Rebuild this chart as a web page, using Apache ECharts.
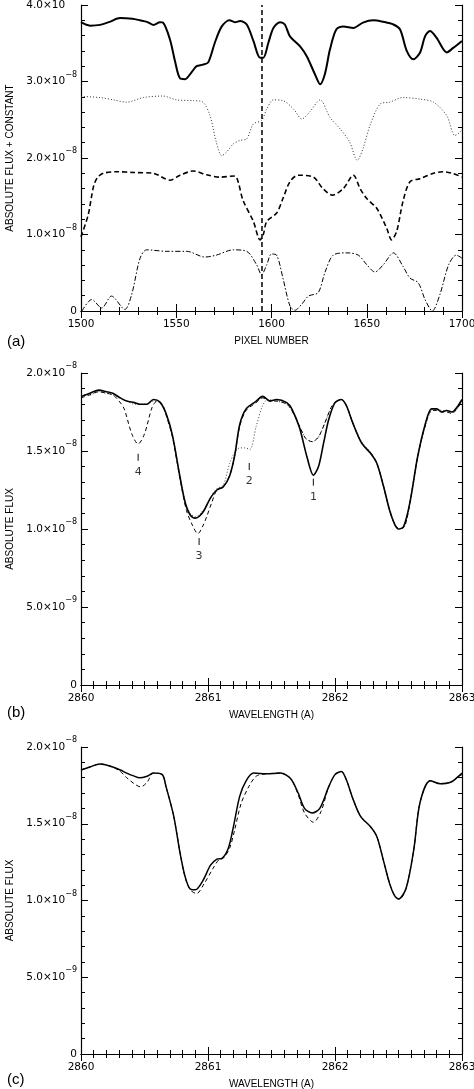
<!DOCTYPE html>
<html><head><meta charset="utf-8">
<script src="https://cdn.jsdelivr.net/npm/echarts@6/dist/echarts.min.js"></script>
<style>html,body{margin:0;padding:0;background:#fff}#c{width:474px;height:1089px}</style>
</head><body><div id="c"></div>
<script>
// ---- Panel (a): flux (units of 1e-8) vs pixel number ----
const A_SOLID = [[1500,3.775],[1504.7,3.73],[1510,3.74],[1515,3.78],[1520.5,3.83],[1527,3.82],[1531,3.80],[1534.6,3.78],[1538,3.74],[1541.5,3.775],[1543,3.77],[1546.7,3.55],[1549.3,3.27],[1552,3.04],[1554.6,3.03],[1558,3.12],[1560.7,3.20],[1564,3.22],[1566.8,3.25],[1570.3,3.51],[1573.9,3.72],[1578,3.80],[1580.8,3.775],[1583.5,3.79],[1587,3.745],[1590.5,3.53],[1594,3.31],[1595.7,3.31],[1598.4,3.51],[1601,3.70],[1604.5,3.775],[1607,3.745],[1609.7,3.59],[1615,3.46],[1618.5,3.33],[1622.8,3.095],[1625.5,2.965],[1628,3.095],[1630.7,3.42],[1634,3.68],[1637.7,3.72],[1643,3.70],[1648,3.77],[1653.4,3.80],[1658.7,3.78],[1664,3.745],[1667.5,3.68],[1671,3.40],[1674.4,3.29],[1678,3.38],[1680.6,3.59],[1683.2,3.66],[1686.7,3.57],[1692,3.38],[1695.4,3.44],[1700,3.53]];
const A_DOTTED = [[1500,2.805],[1510,2.79],[1517,2.76],[1524,2.73],[1532.7,2.79],[1543,2.81],[1550,2.76],[1559,2.75],[1564,2.73],[1567.7,2.555],[1571,2.21],[1573.9,2.03],[1576.5,2.08],[1580,2.185],[1583.5,2.23],[1587,2.25],[1590.5,2.445],[1594.8,2.49],[1597.5,2.64],[1601,2.76],[1606,2.75],[1611.6,2.64],[1615.9,2.51],[1620,2.60],[1625.5,2.76],[1630.7,2.53],[1636,2.38],[1641,2.21],[1645,1.97],[1648,2.12],[1651.7,2.425],[1657,2.705],[1662,2.73],[1669,2.79],[1678,2.77],[1685,2.73],[1692,2.555],[1696.3,2.295],[1700,2.36]];
const A_DASHED = [[1500,0.97],[1503.8,1.26],[1506.5,1.62],[1508.5,1.74],[1511.7,1.80],[1518.7,1.82],[1528,1.81],[1538,1.80],[1546.7,1.71],[1552,1.775],[1559,1.83],[1566,1.78],[1573,1.75],[1580.8,1.765],[1582.5,1.69],[1585,1.45],[1590.5,1.17],[1594,0.93],[1595.7,1.00],[1597.5,1.17],[1602.7,1.28],[1606,1.47],[1609.7,1.69],[1614,1.775],[1622,1.75],[1627,1.60],[1632,1.515],[1637.7,1.60],[1643,1.775],[1646.5,1.60],[1650,1.47],[1655.3,1.34],[1660.5,1.08],[1663,0.93],[1665.7,1.04],[1669,1.43],[1672.7,1.69],[1678,1.73],[1685,1.80],[1690,1.82],[1695,1.80],[1700,1.75]];
const A_DASHDOT = [[1500.5,0.0],[1505.6,0.15],[1510.9,0.04],[1516,0.195],[1523,0.02],[1526.6,0.215],[1531,0.69],[1534.5,0.80],[1545,0.78],[1555.5,0.78],[1565,0.705],[1571,0.73],[1580,0.80],[1587,0.78],[1592.2,0.605],[1594.8,0.475],[1597.5,0.605],[1600,0.745],[1602.7,0.73],[1606,0.43],[1609.7,0.065],[1612.3,0.01],[1615.9,0.09],[1619.4,0.195],[1624.5,0.24],[1628,0.50],[1632.4,0.73],[1639.5,0.76],[1645.6,0.73],[1650,0.605],[1654.3,0.51],[1658.7,0.605],[1664,0.76],[1669,0.585],[1672.7,0.43],[1677,0.37],[1680.6,0.15],[1684.4,0.0],[1688.4,0.215],[1693,0.605],[1697,0.73],[1700,0.69]];
const A_MARKER_PIXEL = 1595;

// ---- Panel (b): flux (units of 1e-8) vs wavelength (A) ----
const B_SOLID = [[2860.00,1.85],[2860.07,1.87],[2860.14,1.89],[2860.20,1.88],[2860.25,1.87],[2860.31,1.84],[2860.36,1.82],[2860.42,1.81],[2860.46,1.80],[2860.52,1.80],[2860.57,1.83],[2860.62,1.815],[2860.67,1.74],[2860.72,1.60],[2860.78,1.33],[2860.82,1.17],[2860.86,1.09],[2860.90,1.07],[2860.93,1.08],[2860.97,1.12],[2861.02,1.20],[2861.07,1.25],[2861.12,1.27],[2861.17,1.34],[2861.21,1.47],[2861.25,1.67],[2861.30,1.77],[2861.38,1.82],[2861.43,1.85],[2861.49,1.82],[2861.54,1.83],[2861.62,1.81],[2861.66,1.77],[2861.72,1.65],[2861.78,1.46],[2861.83,1.345],[2861.87,1.40],[2861.91,1.55],[2861.95,1.70],[2862.00,1.81],[2862.05,1.83],[2862.09,1.79],[2862.14,1.68],[2862.21,1.55],[2862.28,1.485],[2862.33,1.42],[2862.38,1.28],[2862.43,1.12],[2862.47,1.03],[2862.50,1.00],[2862.54,1.015],[2862.59,1.17],[2862.65,1.46],[2862.71,1.67],[2862.76,1.77],[2862.80,1.77],[2862.84,1.75],[2862.88,1.76],[2862.92,1.75],[2862.96,1.78],[2863.00,1.83]];
const B_DASHED = [[2860.00,1.84],[2860.07,1.86],[2860.14,1.88],[2860.20,1.87],[2860.25,1.86],[2860.30,1.82],[2860.34,1.77],[2860.40,1.61],[2860.45,1.545],[2860.50,1.61],[2860.56,1.78],[2860.60,1.82],[2860.64,1.80],[2860.67,1.73],[2860.72,1.59],[2860.78,1.32],[2860.83,1.12],[2860.88,1.02],[2860.92,0.97],[2860.96,1.02],[2860.99,1.08],[2861.03,1.17],[2861.07,1.25],[2861.12,1.27],[2861.17,1.34],[2861.21,1.47],[2861.25,1.66],[2861.30,1.76],[2861.38,1.81],[2861.43,1.84],[2861.49,1.82],[2861.54,1.82],[2861.62,1.80],[2861.66,1.76],[2861.72,1.66],[2861.77,1.58],[2861.82,1.56],[2861.87,1.59],[2861.92,1.68],[2861.97,1.78],[2862.00,1.81],[2862.05,1.83],[2862.09,1.79],[2862.14,1.68],[2862.21,1.55],[2862.28,1.49],[2862.33,1.42],[2862.38,1.28],[2862.43,1.12],[2862.47,1.03],[2862.51,1.00],[2862.55,1.02],[2862.59,1.17],[2862.65,1.46],[2862.71,1.66],[2862.76,1.76],[2862.80,1.76],[2862.84,1.75],[2862.88,1.75],[2862.92,1.74],[2862.96,1.77],[2863.00,1.82]];
const B_DOTTED = [[2860.00,1.86],[2860.07,1.86],[2860.14,1.88],[2860.20,1.87],[2860.25,1.86],[2860.31,1.84],[2860.36,1.82],[2860.42,1.80],[2860.46,1.80],[2860.52,1.80],[2860.57,1.82],[2860.62,1.81],[2860.67,1.74],[2860.72,1.60],[2860.78,1.34],[2860.82,1.18],[2860.86,1.10],[2860.90,1.08],[2860.93,1.09],[2860.97,1.13],[2861.02,1.20],[2861.07,1.26],[2861.12,1.28],[2861.17,1.42],[2861.21,1.49],[2861.25,1.52],[2861.29,1.52],[2861.33,1.51],[2861.38,1.66],[2861.43,1.79],[2861.47,1.83],[2861.54,1.82],[2861.62,1.80],[2861.66,1.76],[2861.72,1.66],[2861.77,1.58],[2861.82,1.56],[2861.87,1.59],[2861.92,1.68],[2861.97,1.78],[2862.00,1.81],[2862.05,1.83],[2862.09,1.79],[2862.14,1.68],[2862.21,1.56],[2862.28,1.49],[2862.33,1.42],[2862.38,1.28],[2862.43,1.12],[2862.47,1.03],[2862.51,1.00],[2862.55,1.02],[2862.59,1.17],[2862.65,1.46],[2862.71,1.66],[2862.76,1.76],[2862.80,1.77],[2862.84,1.76],[2862.88,1.76],[2862.92,1.75],[2862.96,1.77],[2863.00,1.82]];
const B_MARK_LABELS = ['1','2','3','4'];
const B_MARK_WL = [2861.83, 2861.325, 2860.93, 2860.45];
const B_MARK_FLUX = [1.30, 1.40, 0.92, 1.46];

// ---- Panel (c): flux (units of 1e-8) vs wavelength (A) ----
const C_SOLID = [[2860.00,1.85],[2860.07,1.87],[2860.15,1.89],[2860.25,1.87],[2860.31,1.85],[2860.36,1.83],[2860.42,1.81],[2860.46,1.80],[2860.52,1.81],[2860.57,1.83],[2860.64,1.82],[2860.67,1.74],[2860.73,1.55],[2860.78,1.31],[2860.82,1.155],[2860.86,1.075],[2860.90,1.07],[2860.96,1.13],[2861.02,1.23],[2861.07,1.27],[2861.11,1.275],[2861.16,1.34],[2861.20,1.48],[2861.25,1.68],[2861.30,1.78],[2861.36,1.83],[2861.46,1.825],[2861.57,1.83],[2861.65,1.795],[2861.71,1.70],[2861.76,1.60],[2861.82,1.57],[2861.88,1.60],[2861.95,1.74],[2862.00,1.82],[2862.05,1.84],[2862.09,1.785],[2862.14,1.665],[2862.20,1.55],[2862.28,1.48],[2862.33,1.415],[2862.38,1.265],[2862.43,1.11],[2862.47,1.03],[2862.50,1.01],[2862.56,1.08],[2862.62,1.33],[2862.67,1.64],[2862.75,1.78],[2862.83,1.76],[2862.91,1.77],[2862.96,1.80],[2863.00,1.83]];
const C_DASHED = [[2860.00,1.85],[2860.07,1.87],[2860.15,1.89],[2860.25,1.87],[2860.31,1.84],[2860.36,1.80],[2860.42,1.76],[2860.47,1.74],[2860.52,1.77],[2860.57,1.83],[2860.64,1.82],[2860.67,1.74],[2860.73,1.55],[2860.78,1.31],[2860.82,1.15],[2860.86,1.07],[2860.91,1.045],[2860.97,1.11],[2861.04,1.21],[2861.09,1.27],[2861.12,1.275],[2861.17,1.34],[2861.21,1.46],[2861.26,1.63],[2861.32,1.74],[2861.38,1.81],[2861.46,1.825],[2861.57,1.83],[2861.65,1.795],[2861.71,1.69],[2861.76,1.57],[2861.83,1.51],[2861.89,1.58],[2861.95,1.74],[2862.00,1.82],[2862.05,1.84],[2862.09,1.785],[2862.14,1.665],[2862.20,1.55],[2862.28,1.48],[2862.33,1.415],[2862.38,1.265],[2862.43,1.11],[2862.47,1.03],[2862.51,1.01],[2862.56,1.08],[2862.62,1.33],[2862.67,1.64],[2862.75,1.78],[2862.83,1.76],[2862.91,1.77],[2862.96,1.80],[2863.00,1.82]];

// ---- axis ticks ----
const A_X_TICKS = {min:1500, max:1700, interval:50};
const A_Y_TICKS = {min:0, max:4, interval:1};
const BC_X_TICKS = {min:2860, max:2863, interval:1};
const BC_Y_TICKS = {min:0, max:2, interval:0.5};

const chart = echarts.init(document.getElementById('c'), null, {renderer:'canvas'});
const FONT = 'DejaVu Sans';
const NAMEFONT = 'Liberation Sans';

function fluxLabel(v){
  if (Math.abs(v) < 1e-9) return '{m|0}';
  let m = v, e = 8;
  if (v < 0.999) { m = v*10; e = 9; }
  return '{m|' + m.toFixed(1) + '\u00d710}{e|\u2212' + e + '}';
}
const RICH = {
  m:{fontSize:10.5, fontFamily:FONT, color:'#000', lineHeight:22},
  e:{fontSize:8, fontFamily:FONT, color:'#000', verticalAlign:'top', lineHeight:10}
};
const AX_LINE = {show:true, lineStyle:{color:'#000', width:1.2}};
const grids = [
  {left:81, right:12, top:5, height:306},
  {left:81, right:12, top:373, height:312},
  {left:81, right:12, top:747, height:307}
];
function xAxes(gi, ticks, split, name){
  return [
    {type:'value', gridIndex:gi, position:'bottom', min:ticks.min, max:ticks.max, interval:ticks.interval,
     axisLine:AX_LINE, splitLine:{show:false},
     axisTick:{inside:true, length:7, lineStyle:{color:'#000', width:1}},
     minorTick:{show:true, splitNumber:split, length:4, lineStyle:{color:'#000', width:1}},
     axisLabel:{margin:8, fontSize:10.5, fontFamily:FONT, color:'#000', formatter:v=>String(Math.round(v))},
     name:name, nameLocation:'middle', nameGap:25,
     nameTextStyle:{fontSize:10, fontFamily:NAMEFONT, color:'#000', verticalAlign:'top'}},
    {type:'value', gridIndex:gi, position:'top', min:ticks.min, max:ticks.max, interval:ticks.interval,
     axisLine:AX_LINE, splitLine:{show:false},
     axisTick:{inside:true, length:7, lineStyle:{color:'#000', width:1}},
     minorTick:{show:true, splitNumber:split, length:4, lineStyle:{color:'#000', width:1}},
     axisLabel:{show:false}}
  ];
}
function yAxes(gi, ticks, split, name){
  return [
    {type:'value', gridIndex:gi, position:'left', min:ticks.min, max:ticks.max, interval:ticks.interval,
     axisLine:AX_LINE, splitLine:{show:false},
     axisTick:{inside:true, length:7, lineStyle:{color:'#000', width:1}},
     minorTick:{show:true, splitNumber:split, length:4, lineStyle:{color:'#000', width:1}},
     axisLabel:{margin:4, formatter:fluxLabel, rich:RICH},
     name:name, nameLocation:'middle', nameGap:62,
     nameTextStyle:{fontSize:10, fontFamily:NAMEFONT, color:'#000'}},
    {type:'value', gridIndex:gi, position:'right', min:ticks.min, max:ticks.max, interval:ticks.interval,
     axisLine:AX_LINE, splitLine:{show:false},
     axisTick:{inside:true, length:7, lineStyle:{color:'#000', width:1}},
     minorTick:{show:true, splitNumber:split, length:4, lineStyle:{color:'#000', width:1}},
     axisLabel:{show:false}}
  ];
}
function line(xi, yi, data, width, type, color, smooth){
  return {type:'line', xAxisIndex:xi, yAxisIndex:yi, data:data, showSymbol:false, symbol:'none',
    smooth:smooth===undefined?0.3:smooth, animation:false, silent:true,
    lineStyle:{color:color||'#000', width:width, type:type}};
}
const DASH = [5,3];
const DOT = [1,2];
const DASHDOT = [5,2,1.5,2];

const series = [
  line(0,0,A_SOLID,2,'solid'),
  line(0,0,A_DOTTED,1,DOT,'#333'),
  line(0,0,A_DASHED,1.6,DASH),
  line(0,0,A_DASHDOT,1,DASHDOT),
  line(0,0,[[A_MARKER_PIXEL,A_Y_TICKS.min],[A_MARKER_PIXEL,A_Y_TICKS.max]],1.5,[5,3],'#000',false),
  line(2,2,B_DOTTED,1,DOT,'#444'),
  line(2,2,B_DASHED,1,[4,3]),
  line(2,2,B_SOLID,1.6,'solid'),
  {type:'scatter', xAxisIndex:2, yAxisIndex:2, animation:false, silent:true,
   symbol:'rect', symbolSize:[1.2,7], itemStyle:{color:'#000'},
   data:B_MARK_WL.map((w,i)=>({value:[w,B_MARK_FLUX[i]], name:B_MARK_LABELS[i]})),
   label:{show:true, position:'bottom', distance:6, formatter:p=>p.name,
     fontSize:11, fontFamily:FONT, color:'#000'}},
  line(4,4,C_DASHED,1,[4,3]),
  line(4,4,C_SOLID,1.5,'solid')
];

const option = {
  backgroundColor:'#fff',
  animation:false,
  grid:grids.map(g=>Object.assign({containLabel:false, outerBoundsMode:'none'}, g)),
  xAxis:[].concat(xAxes(0,A_X_TICKS,5,'PIXEL NUMBER'), xAxes(1,BC_X_TICKS,10,'WAVELENGTH (A)'), xAxes(2,BC_X_TICKS,10,'WAVELENGTH (A)')),
  yAxis:[].concat(yAxes(0,A_Y_TICKS,5,'ABSOLUTE FLUX + CONSTANT'), yAxes(1,BC_Y_TICKS,5,'ABSOLUTE FLUX'), yAxes(2,BC_Y_TICKS,5,'ABSOLUTE FLUX')),
  series:series,
  graphic:[
    {type:'text', left:7, top:334, style:{text:'(a)', fontSize:15, fontFamily:NAMEFONT, fill:'#000'}},
    {type:'text', left:7, top:705, style:{text:'(b)', fontSize:15, fontFamily:NAMEFONT, fill:'#000'}},
    {type:'text', left:7, top:1072, style:{text:'(c)', fontSize:15, fontFamily:NAMEFONT, fill:'#000'}}
  ]
};
chart.setOption(option);
</script></body></html>
